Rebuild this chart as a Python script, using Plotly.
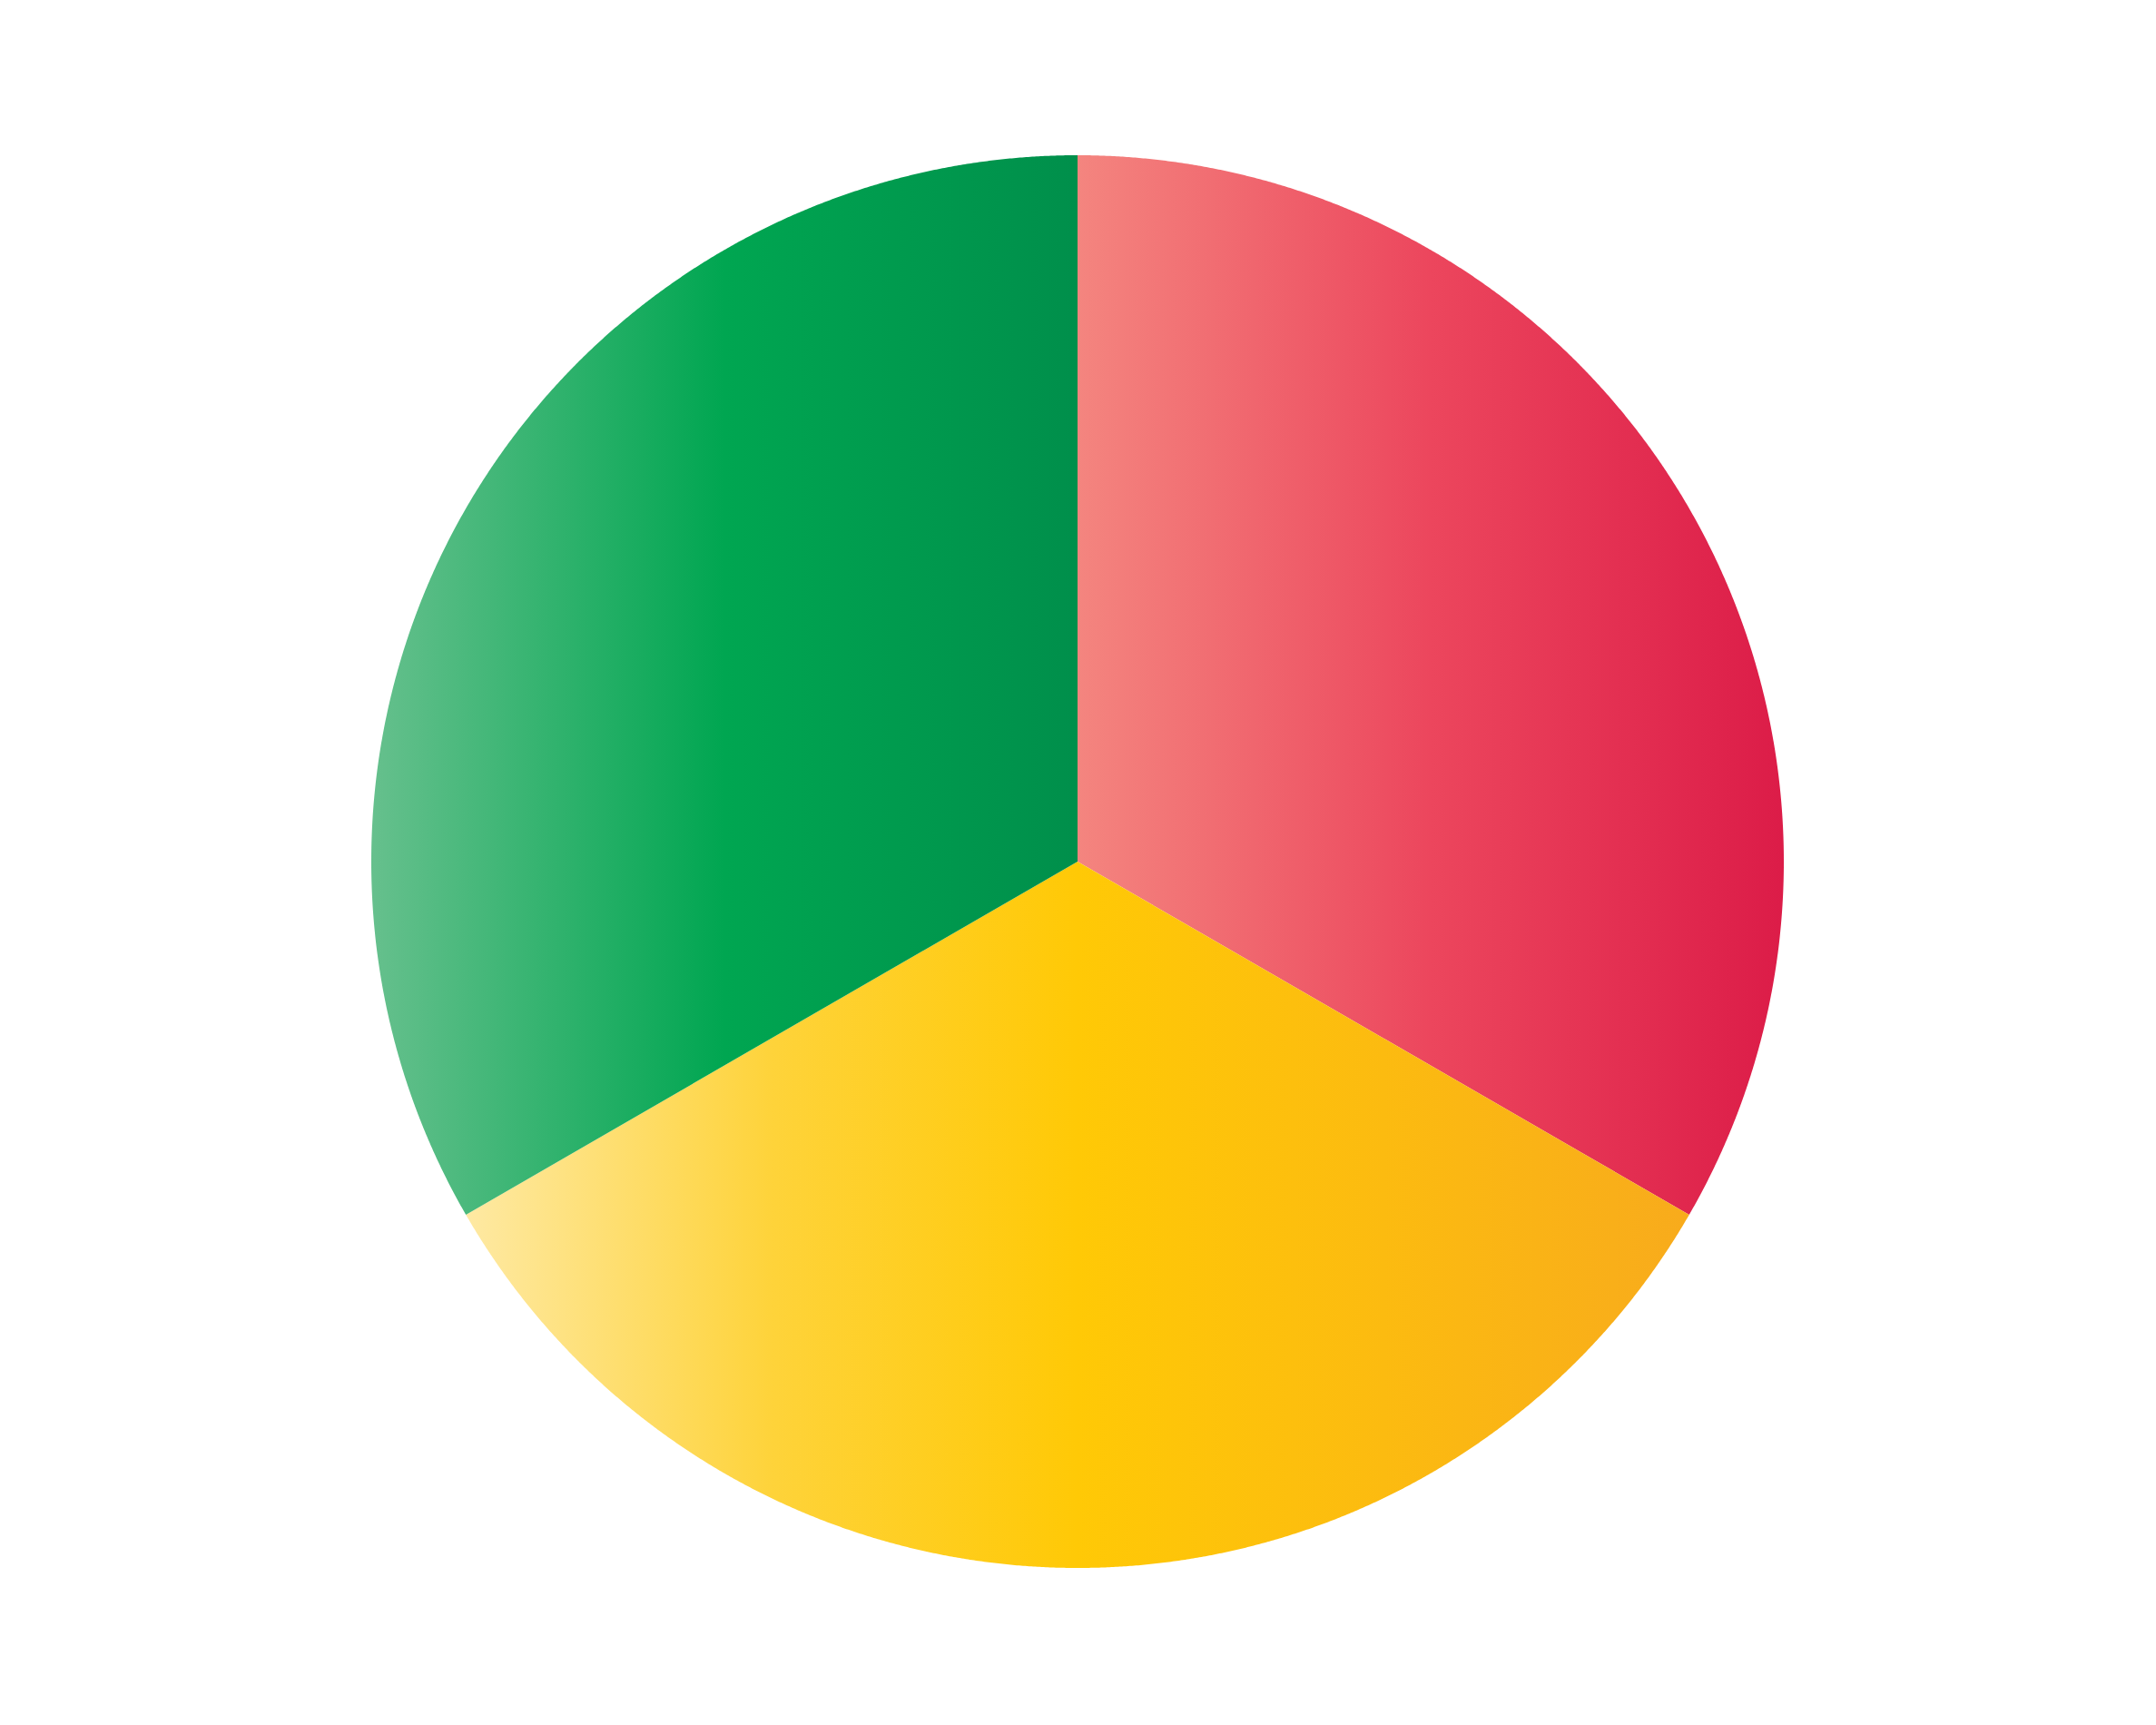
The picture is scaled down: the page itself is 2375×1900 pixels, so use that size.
import numpy as np
import plotly.graph_objects as go

########################################################################################
## Data: three equal slices, clockwise from 12 o'clock

labels = ["Red", "Yellow", "Green"]
values = [1, 1, 1]

# horizontal gradient stops of each slice (left -> right)
red_stops = ["#f4857f", "#ec465d", "#dc1c48"]
yellow_stops = ["#fee9a3", "#fed33a", "#ffc906", "#fcbb10", "#f8ab1c"]
green_stops = ["#66c08d", "#00a651", "#008f4b"]

########################################################################################
## Geometry from the values

slice_stops = [red_stops, yellow_stops, green_stops]
fractions = np.array(values) / np.sum(values)
ends = np.cumsum(fractions)
starts = ends - fractions

fig = go.Figure()
for label, s0, s1, stops in zip(labels, starts, ends, slice_stops):
    # clockwise from the top
    ang = np.pi / 2 - 2 * np.pi * np.linspace(s0, s1, 720)
    xs = np.concatenate([[0], np.cos(ang), [0]])
    ys = np.concatenate([[0], np.sin(ang), [0]])
    scale = [[i / (len(stops) - 1), c] for i, c in enumerate(stops)]
    fig.add_trace(
        go.Scatter(
            x=xs,
            y=ys,
            name=label,
            mode="lines",
            fill="toself",
            fillgradient=dict(type="horizontal", colorscale=scale),
            line=dict(width=0, color="rgba(0,0,0,0)", simplify=False),
            hoverinfo="name",
        )
    )

# page body keeps an 8px margin, so the figure is a bit smaller than the window
W, H = 2359, 1884
R = 778  # radius in px
cx, cy = 1179, 941  # centre in px, from top-left of the figure

fig.update_layout(
    width=W,
    height=H,
    margin=dict(l=0, r=0, t=0, b=0),
    paper_bgcolor="white",
    plot_bgcolor="white",
    showlegend=False,
    xaxis=dict(range=[-cx / R, (W - cx) / R], visible=False, fixedrange=True),
    yaxis=dict(range=[-(H - cy) / R, cy / R], visible=False, fixedrange=True),
)
fig.write_html("out.html")
